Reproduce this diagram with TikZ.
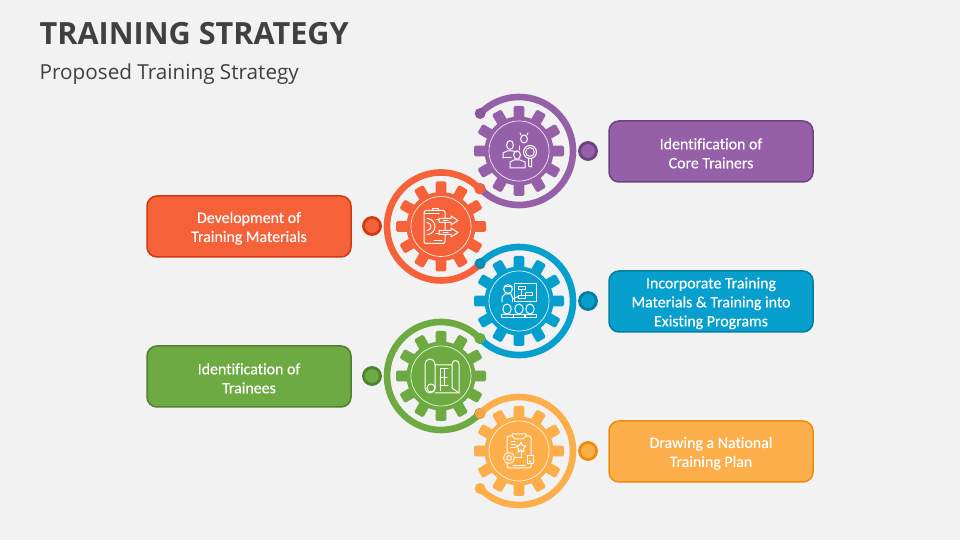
\documentclass[tikz,border=0pt]{standalone}
\usepackage{fontspec}
\setmainfont{Open Sans}
\newfontfamily\labelfont[Ligatures=NoCommon,FakeBold=0.25]{Carlito}
\definecolor{pagegray}{HTML}{F2F2F2}
\definecolor{titlegray}{HTML}{404040}
\definecolor{purplemain}{HTML}{9560A8}
\definecolor{purpledark}{HTML}{6C4380}
\definecolor{redmain}{HTML}{F5623A}
\definecolor{reddark}{HTML}{D2390F}
\definecolor{bluemain}{HTML}{07A0CE}
\definecolor{bluedark}{HTML}{067CA0}
\definecolor{greenmain}{HTML}{6DAA41}
\definecolor{greendark}{HTML}{4F7F2F}
\definecolor{yellowmain}{HTML}{FCAE4A}
\definecolor{yellowdark}{HTML}{EE8B0C}
\tikzset{
  labelbox/.style 2 args={draw=#2, fill=#1, line width=1.5pt, rounded corners=10pt,
    minimum width=204pt, minimum height=61pt},
  labeltext/.style={align=center, text=white, inner sep=0pt,
    font=\labelfont\fontsize{15.9}{19}\selectfont},
  enddot/.style 2 args={draw=#2, fill=#1, line width=2.8pt, circle, minimum size=17pt, inner sep=0pt},
  iconline/.style={draw=white, line width=1pt, line join=round, line cap=round},
  pics/gearwheel/.style 2 args={code={
    \foreach \a in {0,30,...,330}
      \fill[#1, rotate=\a, rounded corners=1.5pt] (30,-5.3) rectangle (45,5.3);
    \fill[#1] (0,0) circle (34.5);
    \draw[white, opacity=.85, line width=0.7pt] (0,0) circle (30);
    \draw[#1, line width=6.6pt] (136:54) arc (136:-136:54);
    \fill[#1] (-136:54) circle (5.5);
    \fill[#2] (136:54) circle (5.5);
  }}
}
\begin{document}
\begin{tikzpicture}[x=1pt,y=1pt]
  \useasboundingbox[fill=pagegray] (0,0) rectangle (960,540);
  \node[anchor=west, inner sep=0pt, text=titlegray, font=\bfseries\fontsize{30.6}{36}\selectfont] (title) at (39.5,506) {TRAINING STRATEGY};
  \node[anchor=west, inner sep=0pt, text=titlegray, font=\fontsize{20.7}{24}\selectfont] (subtitle) at (39.5,466) {Proposed Training Strategy};

  % gears
  \pic at (519,389) {gearwheel={purplemain}{purplemain!92!black}};
  \pic[rotate=180] at (441,313.5) {gearwheel={redmain}{redmain!94!black}};
  \pic at (519,239) {gearwheel={bluemain}{bluemain!88!black}};
  \pic[rotate=180] at (441,164) {gearwheel={greenmain}{greenmain!70!black}};
  \pic at (519,89) {gearwheel={yellowmain}{yellowmain!96!black}};

  % boxes and dots
  \node[labelbox={purplemain}{purpledark}] (core) at (711,388.5) {};
  \node[labelbox={redmain}{reddark}] (materials) at (249,313.5) {};
  \node[labelbox={bluemain}{bluedark}] (programs) at (711,238.5) {};
  \node[labelbox={greenmain}{greendark}] (trainees) at (249,163.5) {};
  \node[labelbox={yellowmain}{yellowdark}] (plan) at (711,88.5) {};
  \node[labeltext] (coretext) at ([yshift=-1.8pt]core.center) {Identification of\\Core Trainers};
  \node[labeltext] (materialstext) at ([yshift=-1.8pt]materials.center) {Development of\\Training Materials};
  \node[labeltext] (programstext) at ([yshift=-1.8pt]programs.center) {Incorporate Training\\Materials \& Training into\\Existing Programs};
  \node[labeltext] (traineestext) at ([yshift=-1.8pt]trainees.center) {Identification of\\Trainees};
  \node[labeltext] (plantext) at ([yshift=-1.8pt]plan.center) {Drawing a National\\Training Plan};
  \node[enddot={purplemain}{purpledark}] (coredot) at (588,389) {};
  \node[enddot={redmain}{reddark}] (materialsdot) at (372,314) {};
  \node[enddot={bluemain}{bluedark}] (programsdot) at (588,239) {};
  \node[enddot={greenmain}{greendark}] (traineesdot) at (372,164) {};
  \node[enddot={yellowmain}{yellowdark}] (plandot) at (588,89) {};

  % trainers icon
  \begin{scope}[shift={(519,389)}, iconline]
    \draw (-9,6) ellipse (3.4 and 4.4);
    \draw (-16,-7) -- (-16,-2) -- (-12,0) -- (-6,0) -- (-2,-1);
    \draw (-16,-7) -- (-8,-7);
    \draw (-2,-4) ellipse (3.4 and 4.2);
    \draw (-9,-17) -- (-9,-11) -- (-5,-9) -- (1,-9) -- (6,-11) -- (6,-17) -- cycle;
    \draw (5,12) ellipse (3.4 and 4);
    \draw (2,16) -- (1,18) (8,16) -- (9,18);
    \draw (0,5) -- (0,1);
    \draw (11,-1) circle (6.5);
    \draw (11,-1) circle (4.4);
    \draw (9.5,-7.5) -- (9.5,-15) -- (12.5,-16) -- (12.5,-7.5);
  \end{scope}

  % materials icon
  \begin{scope}[shift={(441,313.5)}, iconline]
    \draw[rounded corners=2pt] (-17,16) rectangle (4,-17);
    \draw (-9,16) -- (-9,18) -- (-3,18) -- (-3,16);
    \draw (-17,13) -- (-2,13);
    \draw (-14,8) arc (90:-90:8);
    \draw (-14,4) arc (90:-90:4);
    \draw (-5,7) -- (-2,7) (-5,-7) -- (-2,-7);
    \draw[fill=redmain] (-2,8) -- (10,8) -- (10,10.5) -- (17,6) -- (10,1.5) -- (10,4) -- (-2,4) -- cycle;
    \draw[fill=redmain] (-2,-4) -- (10,-4) -- (10,-1.5) -- (17,-6) -- (10,-10.5) -- (10,-8) -- (-2,-8) -- cycle;
    \draw (2,6) -- (7,6) (2,-6) -- (7,-6);
    \draw (-7,-14) -- (1,-14);
  \end{scope}

  % programs icon
  \begin{scope}[shift={(519,239)}, iconline]
    \draw (-5,17) rectangle (17,-1);
    \draw (-1,14) rectangle (6,11);
    \draw (6,8) rectangle (13,5);
    \draw (-1,2) rectangle (6,5);
    \draw (2,11) -- (2,5);
    \draw (-11,12) circle (4.4);
    \draw (-15,14) -- (-7,14);
    \draw (-17,-1) -- (-17,4) -- (-14,7) -- (-8,7) -- (-6,2) -- (0,5);
    \draw (-7,-1) -- (-7,2);
    \foreach \x in {-12,0,11} {
      \draw (\x,-8) ellipse (4.2 and 5);
      \draw (\x-6,-17) -- (\x-6,-14) -- (\x+6,-14) -- (\x+6,-17) -- cycle;
    }
  \end{scope}

  % trainees icon
  \begin{scope}[shift={(441,164)}, iconline]
    \draw (-6,-13) -- (-6,12) arc (0:180:5) -- (-16,-12);
    \draw (-16,-12) arc (180:360:5);
    \draw (-6,11) -- (11,11) (-6,-17) -- (18,-17) -- (11,-12);
    \draw (11,-12) -- (11,12) arc (180:0:3.5) -- (18,-17);
    \draw (-1,-15) -- (-1,7) -- (7,7) (-1,-2) -- (6,-2) (-1,-10) -- (7,-10) (3,7) -- (3,-10);
    \draw (-10,-12) circle (4);
  \end{scope}

  % plan icon
  \begin{scope}[shift={(519,89)}, iconline]
    \draw[rounded corners=2pt] (-12,15) rectangle (12,-17);
    \draw[fill=yellowmain] (-7,17) -- (7,17) -- (7,15) -- (4,12) -- (-4,12) -- (-7,15) -- cycle;
    \draw (-8,9) -- (-4,9) (-8,6) -- (-4,6) (-8,3) -- (-4,3);
    \draw (2,9) -- (3.5,5.5) -- (7,5) -- (4.5,2.5) -- (5,-1) -- (2,1) -- (-1,-1) -- (-0.5,2.5) -- (-3,5) -- (0.5,5.5) -- cycle;
    \draw (2,1) -- (2,-7) -- (-5,-7);
    \draw[fill=yellowmain, dash pattern=on 2pt off 1pt] (-10,-7) circle (5.5);
    \draw (-10,-7) circle (2.4);
    \draw[fill=yellowmain] (8,-5) rectangle (14,-13);
    \draw (11,-10.5) circle (0.6);
    \draw (-6,-15) -- (6,-15);
  \end{scope}
\end{tikzpicture}
\end{document}
